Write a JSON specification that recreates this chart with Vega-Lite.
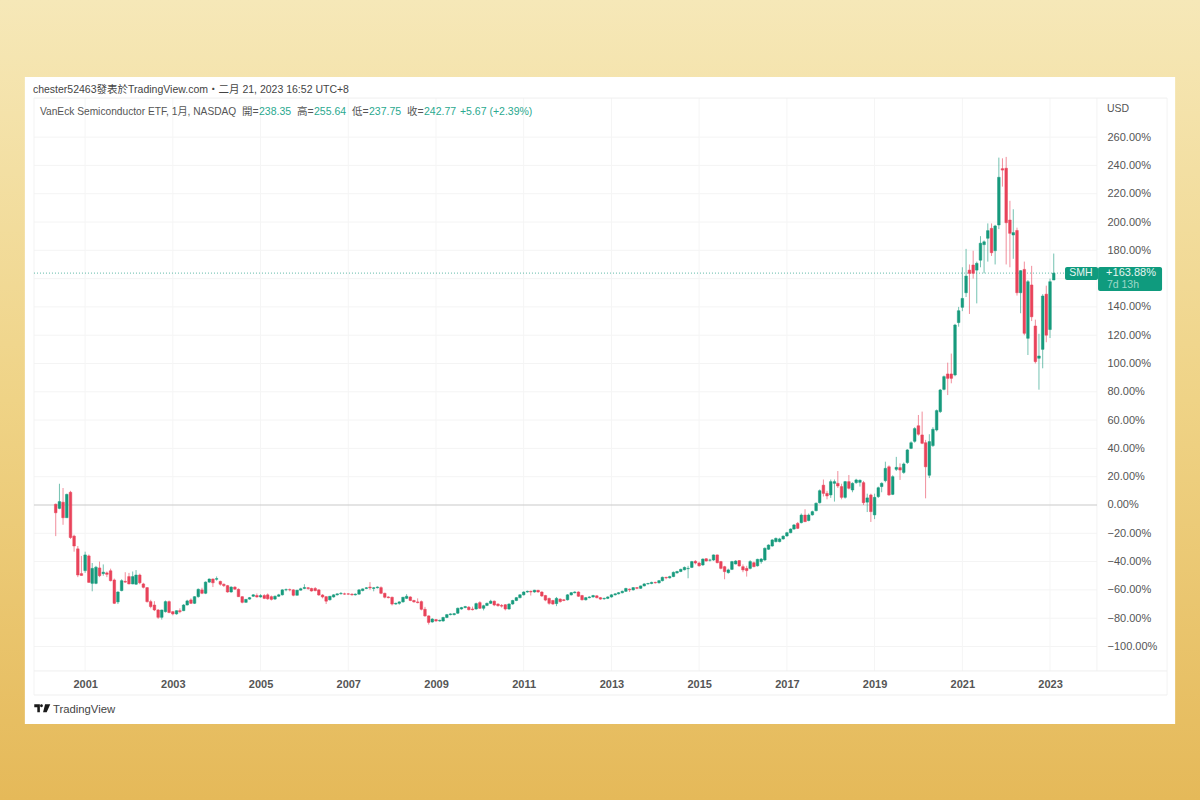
{"$schema":"https://vega.github.io/schema/vega-lite/v6.json","width":1200,"height":800,"padding":0,"autosize":{"type":"fit","contains":"padding"},"background":"#eccb7d","view":{"stroke":null},"config":{"text":{"font":"Liberation Sans, Noto Sans CJK TC"}},
"layer":[
{"data":{"values":[{"start":"1999-01-23","end":"2026-06-03","top":356.9,"bottom":-208.5}]},"mark":{"type":"rect","fill":{"gradient":"linear","x1":0,"y1":0,"x2":0,"y2":1,"stops":[{"offset":0,"color":"#f6e8b8"},{"offset":0.5,"color":"#efd386"},{"offset":1,"color":"#e5b959"}]}},"encoding":{"x":{"field":"start","type":"temporal","axis":{"title":null,"values":["2001-01-01","2003-01-01","2005-01-01","2007-01-01","2009-01-01","2011-01-01","2013-01-01","2015-01-01","2017-01-01","2019-01-01","2021-01-01","2023-01-01"],"format":"%Y","orient":"bottom","offset":-122,"domain":false,"ticks":false,"grid":false,"labelPadding":0,"labelFontSize":11,"labelFontWeight":"bold","labelColor":"#555555","labelFont":"Liberation Sans","zindex":1},"scale":{"type":"utc","domain":["1999-01-23","2026-06-03"],"padding":0}},"x2":{"field":"end"},"y":{"field":"top","type":"quantitative","axis":{"title":null,"orient":"right","offset":-93,"values":[-100,-80,-60,-40,-20,0,20,40,60,80,100,120,140,180,200,220,240,260],"labelExpr":"replace(format(datum.value,'.2f'),'-','−')+'%'","domain":false,"ticks":false,"grid":false,"labelPadding":0,"labelAlign":"left","labelFontSize":11,"labelColor":"#555555","labelFont":"Liberation Sans","zindex":1},"scale":{"type":"linear","domain":[-208.5,356.9],"nice":false,"zero":false}},"y2":{"field":"bottom"}}},
{"data":{"values":[{"start":"1999-08-18","end":"2025-11-08","top":302.5,"bottom":-154.8}]},"mark":{"type":"rect","fill":"#ffffff"},"encoding":{"x":{"field":"start","type":"temporal"},"x2":{"field":"end"},"y":{"field":"top","type":"quantitative"},"y2":{"field":"bottom"}}},
{"data":{"values":[{"from":"1999-11-02","to":"2024-01-27","level":260},{"from":"1999-11-02","to":"2024-01-27","level":240},{"from":"1999-11-02","to":"2024-01-27","level":220},{"from":"1999-11-02","to":"2024-01-27","level":200},{"from":"1999-11-02","to":"2024-01-27","level":180},{"from":"1999-11-02","to":"2024-01-27","level":160},{"from":"1999-11-02","to":"2024-01-27","level":140},{"from":"1999-11-02","to":"2024-01-27","level":120},{"from":"1999-11-02","to":"2024-01-27","level":100},{"from":"1999-11-02","to":"2024-01-27","level":80},{"from":"1999-11-02","to":"2024-01-27","level":60},{"from":"1999-11-02","to":"2024-01-27","level":40},{"from":"1999-11-02","to":"2024-01-27","level":20},{"from":"1999-11-02","to":"2024-01-27","level":-20},{"from":"1999-11-02","to":"2024-01-27","level":-40},{"from":"1999-11-02","to":"2024-01-27","level":-60},{"from":"1999-11-02","to":"2024-01-27","level":-80},{"from":"1999-11-02","to":"2024-01-27","level":-100}]},"mark":{"type":"rule","stroke":"#f4f4f4","strokeWidth":1},"encoding":{"y":{"field":"level","type":"quantitative"},"x":{"field":"from","type":"temporal"},"x2":{"field":"to"}}},
{"data":{"values":[{"date":"2001-01-01","a":287.6,"b":-117.3},{"date":"2003-01-01","a":287.6,"b":-117.3},{"date":"2005-01-01","a":287.6,"b":-117.3},{"date":"2007-01-01","a":287.6,"b":-117.3},{"date":"2009-01-01","a":287.6,"b":-117.3},{"date":"2011-01-01","a":287.6,"b":-117.3},{"date":"2013-01-01","a":287.6,"b":-117.3},{"date":"2015-01-01","a":287.6,"b":-117.3},{"date":"2017-01-01","a":287.6,"b":-117.3},{"date":"2019-01-01","a":287.6,"b":-117.3},{"date":"2021-01-01","a":287.6,"b":-117.3},{"date":"2023-01-01","a":287.6,"b":-117.3}]},"mark":{"type":"rule","stroke":"#f5f5f5","strokeWidth":1},"encoding":{"x":{"field":"date","type":"temporal"},"y":{"field":"a","type":"quantitative"},"y2":{"field":"b"}}},
{"data":{"values":[{"date":"1999-11-02","a":287.6,"b":-134.3},{"date":"2025-09-02","a":287.6,"b":-134.3},{"date":"2024-01-27","a":287.6,"b":-117.3}]},"mark":{"type":"rule","stroke":"#f3f3f3","strokeWidth":1},"encoding":{"x":{"field":"date","type":"temporal"},"y":{"field":"a","type":"quantitative"},"y2":{"field":"b"}}},
{"data":{"values":[{"from":"1999-11-02","to":"2025-09-02","level":287.6},{"from":"1999-11-02","to":"2025-09-02","level":-117.3},{"from":"1999-11-02","to":"2025-09-02","level":-134.3}]},"mark":{"type":"rule","stroke":"#efefef","strokeWidth":1},"encoding":{"y":{"field":"level","type":"quantitative"},"x":{"field":"from","type":"temporal"},"x2":{"field":"to"}}},
{"data":{"values":[{"from":"1999-11-02","to":"2024-01-27","level":0}]},"mark":{"type":"rule","stroke":"#c9c9c9","strokeWidth":1.2},"encoding":{"y":{"field":"level","type":"quantitative"},"x":{"field":"from","type":"temporal"},"x2":{"field":"to"}}},
{"data":{"values":[{"from":"1999-11-02","to":"2024-01-27","level":163.88}]},"mark":{"type":"rule","stroke":"#1a9a80","strokeWidth":1,"strokeDash":[1,2],"opacity":0.7},"encoding":{"y":{"field":"level","type":"quantitative"},"x":{"field":"from","type":"temporal"},"x2":{"field":"to"}}},
{"data":{"values":[
{"date":"2000-05-01","open":0.5,"close":-5.5,"high":1,"low":-22},
{"date":"2000-06-01","open":-2.4,"close":2.4,"high":15,"low":-3},
{"date":"2000-07-01","open":2,"close":-9,"high":12,"low":-14},
{"date":"2000-08-01","open":-9,"close":7.5,"high":8,"low":-9},
{"date":"2000-09-01","open":9,"close":-23,"high":10,"low":-24},
{"date":"2000-10-01","open":-22,"close":-29,"high":-21,"low":-33},
{"date":"2000-11-01","open":-31,"close":-49.5,"high":-29,"low":-51},
{"date":"2000-12-01","open":-48.5,"close":-49.8,"high":-36,"low":-50},
{"date":"2001-01-01","open":-46.4,"close":-35.3,"high":-33,"low":-48},
{"date":"2001-02-01","open":-36,"close":-54.7,"high":-35,"low":-55},
{"date":"2001-03-01","open":-55.4,"close":-44.8,"high":-41,"low":-61},
{"date":"2001-04-01","open":-55.4,"close":-44,"high":-43,"low":-56},
{"date":"2001-05-01","open":-44.5,"close":-50,"high":-40,"low":-51},
{"date":"2001-06-01","open":-48.5,"close":-47.5,"high":-42,"low":-50},
{"date":"2001-07-01","open":-48,"close":-49,"high":-47,"low":-51},
{"date":"2001-08-01","open":-46.5,"close":-53.5,"high":-45,"low":-54},
{"date":"2001-09-01","open":-53,"close":-69.5,"high":-52,"low":-70},
{"date":"2001-10-01","open":-68.5,"close":-61.5,"high":-61,"low":-70},
{"date":"2001-11-01","open":-60.5,"close":-53.5,"high":-52.5,"low":-61},
{"date":"2001-12-01","open":-54,"close":-54.5,"high":-47.5,"low":-55},
{"date":"2002-01-01","open":-50.6,"close":-55.8,"high":-48,"low":-56},
{"date":"2002-02-01","open":-55.8,"close":-50.6,"high":-47,"low":-56},
{"date":"2002-03-01","open":-56,"close":-49.5,"high":-46,"low":-56.5},
{"date":"2002-04-01","open":-49.5,"close":-55,"high":-48.5,"low":-56},
{"date":"2002-05-01","open":-55.8,"close":-58.2,"high":-55,"low":-59},
{"date":"2002-06-01","open":-58.4,"close":-68.3,"high":-58,"low":-69},
{"date":"2002-07-01","open":-68.3,"close":-71.8,"high":-67,"low":-73},
{"date":"2002-08-01","open":-70.7,"close":-74.2,"high":-68,"low":-75},
{"date":"2002-09-01","open":-74.2,"close":-79.4,"high":-73.5,"low":-80.5},
{"date":"2002-10-01","open":-79.4,"close":-74.2,"high":-74,"low":-81},
{"date":"2002-11-01","open":-75.4,"close":-68.3,"high":-67.5,"low":-76},
{"date":"2002-12-01","open":-68.3,"close":-76,"high":-67.5,"low":-76.5},
{"date":"2003-01-01","open":-75.4,"close":-77,"high":-75,"low":-78},
{"date":"2003-02-01","open":-77,"close":-74.7,"high":-74.5,"low":-77.5},
{"date":"2003-03-01","open":-74.7,"close":-75.4,"high":-73,"low":-76.5},
{"date":"2003-04-01","open":-74.7,"close":-70.7,"high":-70,"low":-75},
{"date":"2003-05-01","open":-70.7,"close":-67.8,"high":-67,"low":-71},
{"date":"2003-06-01","open":-67.1,"close":-69.5,"high":-66,"low":-70},
{"date":"2003-07-01","open":-69.5,"close":-64.8,"high":-64.5,"low":-70},
{"date":"2003-08-01","open":-64.8,"close":-59.6,"high":-59,"low":-65.5},
{"date":"2003-09-01","open":-60,"close":-62.4,"high":-58.5,"low":-63},
{"date":"2003-10-01","open":-62.4,"close":-54.5,"high":-54,"low":-63},
{"date":"2003-11-01","open":-54.5,"close":-52.3,"high":-52,"low":-55},
{"date":"2003-12-01","open":-52.3,"close":-55,"high":-52,"low":-58},
{"date":"2004-01-01","open":-52.5,"close":-52,"high":-50.5,"low":-53.5},
{"date":"2004-02-01","open":-54,"close":-56,"high":-53.5,"low":-57},
{"date":"2004-03-01","open":-56,"close":-57,"high":-55.5,"low":-58},
{"date":"2004-04-01","open":-57,"close":-61.5,"high":-56.5,"low":-62},
{"date":"2004-05-01","open":-61.5,"close":-58,"high":-57.5,"low":-62},
{"date":"2004-06-01","open":-58,"close":-59.5,"high":-57.5,"low":-60},
{"date":"2004-07-01","open":-59.6,"close":-64.8,"high":-59,"low":-65},
{"date":"2004-08-01","open":-64.8,"close":-68.8,"high":-64.5,"low":-69.5},
{"date":"2004-09-01","open":-68.8,"close":-66.7,"high":-66.5,"low":-69},
{"date":"2004-10-01","open":-66.5,"close":-65.5,"high":-65,"low":-67},
{"date":"2004-11-01","open":-64.5,"close":-63.5,"high":-63,"low":-65},
{"date":"2004-12-01","open":-64,"close":-65,"high":-62.5,"low":-65.5},
{"date":"2005-01-01","open":-65,"close":-64,"high":-63,"low":-65.5},
{"date":"2005-02-01","open":-64,"close":-66,"high":-63,"low":-66.5},
{"date":"2005-03-01","open":-63.5,"close":-66.3,"high":-62.5,"low":-67},
{"date":"2005-04-01","open":-64.8,"close":-66.7,"high":-64,"low":-67.5},
{"date":"2005-05-01","open":-66.5,"close":-64.5,"high":-64,"low":-67},
{"date":"2005-06-01","open":-64.5,"close":-63.5,"high":-62.8,"low":-65},
{"date":"2005-07-01","open":-63.5,"close":-60,"high":-59.5,"low":-64},
{"date":"2005-08-01","open":-60,"close":-59.8,"high":-59,"low":-61},
{"date":"2005-09-01","open":-59.8,"close":-60,"high":-59,"low":-61},
{"date":"2005-10-01","open":-60,"close":-63.8,"high":-59.5,"low":-64.5},
{"date":"2005-11-01","open":-63.8,"close":-60.2,"high":-60,"low":-64},
{"date":"2005-12-01","open":-60.2,"close":-59.2,"high":-58.5,"low":-60.5},
{"date":"2006-01-01","open":-59,"close":-58.3,"high":-56,"low":-59.5},
{"date":"2006-02-01","open":-58.5,"close":-59,"high":-58,"low":-60},
{"date":"2006-03-01","open":-59,"close":-60.8,"high":-58.5,"low":-61.2},
{"date":"2006-04-01","open":-59,"close":-60.5,"high":-58,"low":-61},
{"date":"2006-05-01","open":-60,"close":-63.6,"high":-59.5,"low":-64.2},
{"date":"2006-06-01","open":-63.6,"close":-65,"high":-63,"low":-66},
{"date":"2006-07-01","open":-64.8,"close":-68,"high":-64.5,"low":-70},
{"date":"2006-08-01","open":-67,"close":-64.5,"high":-64.3,"low":-67.5},
{"date":"2006-09-01","open":-65,"close":-63.5,"high":-63,"low":-65.5},
{"date":"2006-10-01","open":-63.5,"close":-62.8,"high":-62.5,"low":-64},
{"date":"2006-11-01","open":-62.8,"close":-62.5,"high":-61.5,"low":-63.2},
{"date":"2006-12-01","open":-62.8,"close":-63,"high":-62,"low":-63.5},
{"date":"2007-01-01","open":-62.8,"close":-63,"high":-62.3,"low":-63.5},
{"date":"2007-02-01","open":-63,"close":-63.5,"high":-62.5,"low":-64},
{"date":"2007-03-01","open":-63.5,"close":-63,"high":-62.5,"low":-64},
{"date":"2007-04-01","open":-63,"close":-60,"high":-59.5,"low":-63.5},
{"date":"2007-05-01","open":-60.5,"close":-59.3,"high":-59,"low":-61},
{"date":"2007-06-01","open":-59,"close":-58.5,"high":-58,"low":-59.5},
{"date":"2007-07-01","open":-58,"close":-58.6,"high":-54.5,"low":-60},
{"date":"2007-08-01","open":-59,"close":-58.5,"high":-58,"low":-61},
{"date":"2007-09-01","open":-58.5,"close":-58,"high":-57.5,"low":-59},
{"date":"2007-10-01","open":-58.4,"close":-62.4,"high":-57.5,"low":-63},
{"date":"2007-11-01","open":-62.4,"close":-65.2,"high":-62,"low":-66},
{"date":"2007-12-01","open":-65,"close":-65.5,"high":-64.5,"low":-66},
{"date":"2008-01-01","open":-65.2,"close":-70,"high":-64.8,"low":-71},
{"date":"2008-02-01","open":-70,"close":-69.5,"high":-69,"low":-70.5},
{"date":"2008-03-01","open":-69.5,"close":-68.5,"high":-68,"low":-70.5},
{"date":"2008-04-01","open":-68.5,"close":-65.2,"high":-65,"low":-69},
{"date":"2008-05-01","open":-66,"close":-64.5,"high":-63,"low":-66.5},
{"date":"2008-06-01","open":-65,"close":-67.5,"high":-64.5,"low":-68},
{"date":"2008-07-01","open":-67.5,"close":-68.5,"high":-67,"low":-69},
{"date":"2008-08-01","open":-68.5,"close":-69,"high":-66,"low":-69.5},
{"date":"2008-09-01","open":-68.3,"close":-73.7,"high":-67.5,"low":-74.5},
{"date":"2008-10-01","open":-73.7,"close":-78.4,"high":-72,"low":-79},
{"date":"2008-11-01","open":-78.4,"close":-83,"high":-78,"low":-84.5},
{"date":"2008-12-01","open":-82.7,"close":-80.6,"high":-80,"low":-83.2},
{"date":"2009-01-01","open":-81,"close":-82,"high":-80.5,"low":-82.5},
{"date":"2009-02-01","open":-82,"close":-81.5,"high":-81,"low":-82.5},
{"date":"2009-03-01","open":-82,"close":-79.5,"high":-79,"low":-82.5},
{"date":"2009-04-01","open":-79.5,"close":-77.5,"high":-77,"low":-80},
{"date":"2009-05-01","open":-77.5,"close":-77,"high":-76.5,"low":-78},
{"date":"2009-06-01","open":-77.5,"close":-76.8,"high":-76.3,"low":-78},
{"date":"2009-07-01","open":-76.5,"close":-73,"high":-72.5,"low":-77},
{"date":"2009-08-01","open":-73.5,"close":-72.5,"high":-72,"low":-74},
{"date":"2009-09-01","open":-72.5,"close":-71.8,"high":-71.3,"low":-73},
{"date":"2009-10-01","open":-72.2,"close":-74,"high":-71.5,"low":-74.5},
{"date":"2009-11-01","open":-73.5,"close":-74,"high":-71.8,"low":-74.5},
{"date":"2009-12-01","open":-73.5,"close":-69.7,"high":-69,"low":-74},
{"date":"2010-01-01","open":-69,"close":-73,"high":-68,"low":-73.5},
{"date":"2010-02-01","open":-73,"close":-71.2,"high":-70.5,"low":-74.5},
{"date":"2010-03-01","open":-71,"close":-69.5,"high":-69,"low":-71.5},
{"date":"2010-04-01","open":-69.5,"close":-68,"high":-67,"low":-70},
{"date":"2010-05-01","open":-68,"close":-70.7,"high":-67.5,"low":-71.5},
{"date":"2010-06-01","open":-70,"close":-71.2,"high":-69.5,"low":-71.8},
{"date":"2010-07-01","open":-71,"close":-71.5,"high":-70,"low":-72.5},
{"date":"2010-08-01","open":-70.5,"close":-73.5,"high":-70,"low":-74.5},
{"date":"2010-09-01","open":-73.5,"close":-70,"high":-69.5,"low":-74},
{"date":"2010-10-01","open":-70,"close":-67.5,"high":-67,"low":-70.5},
{"date":"2010-11-01","open":-67.5,"close":-65.5,"high":-65,"low":-68},
{"date":"2010-12-01","open":-65.5,"close":-63.5,"high":-63,"low":-66},
{"date":"2011-01-01","open":-63.5,"close":-61.5,"high":-61,"low":-64},
{"date":"2011-02-01","open":-61.5,"close":-61,"high":-60.5,"low":-62},
{"date":"2011-03-01","open":-61,"close":-61.5,"high":-60.5,"low":-64},
{"date":"2011-04-01","open":-61.5,"close":-60.2,"high":-60,"low":-62},
{"date":"2011-05-01","open":-60.3,"close":-61.5,"high":-60,"low":-62},
{"date":"2011-06-01","open":-61.5,"close":-64.3,"high":-61,"low":-65},
{"date":"2011-07-01","open":-64,"close":-67.2,"high":-63.5,"low":-68},
{"date":"2011-08-01","open":-66,"close":-69.5,"high":-65.5,"low":-70.5},
{"date":"2011-09-01","open":-67.5,"close":-70,"high":-67,"low":-70.5},
{"date":"2011-10-01","open":-69.7,"close":-66,"high":-65,"low":-71.5},
{"date":"2011-11-01","open":-66.5,"close":-68.3,"high":-66,"low":-69},
{"date":"2011-12-01","open":-67,"close":-67.5,"high":-66.5,"low":-68},
{"date":"2012-01-01","open":-67,"close":-63.5,"high":-63,"low":-67.5},
{"date":"2012-02-01","open":-63.5,"close":-62,"high":-61.5,"low":-64},
{"date":"2012-03-01","open":-62,"close":-61.5,"high":-61,"low":-62.5},
{"date":"2012-04-01","open":-61.5,"close":-64.5,"high":-61,"low":-65},
{"date":"2012-05-01","open":-64,"close":-67,"high":-63.5,"low":-67.5},
{"date":"2012-06-01","open":-67,"close":-65.5,"high":-65,"low":-67.5},
{"date":"2012-07-01","open":-65.5,"close":-65,"high":-64.5,"low":-66},
{"date":"2012-08-01","open":-65,"close":-64,"high":-63.5,"low":-65.5},
{"date":"2012-09-01","open":-64.2,"close":-65.5,"high":-63.8,"low":-66},
{"date":"2012-10-01","open":-65.5,"close":-66.5,"high":-65,"low":-67},
{"date":"2012-11-01","open":-66.3,"close":-66,"high":-65.5,"low":-67},
{"date":"2012-12-01","open":-66,"close":-65,"high":-64.5,"low":-66.5},
{"date":"2013-01-01","open":-65,"close":-63.5,"high":-63,"low":-65.5},
{"date":"2013-02-01","open":-63.5,"close":-62.8,"high":-62.3,"low":-64},
{"date":"2013-03-01","open":-62.8,"close":-62,"high":-61.5,"low":-63.2},
{"date":"2013-04-01","open":-62,"close":-61,"high":-60.5,"low":-62.5},
{"date":"2013-05-01","open":-61,"close":-59,"high":-58.5,"low":-61.5},
{"date":"2013-06-01","open":-59.5,"close":-60,"high":-59,"low":-61.5},
{"date":"2013-07-01","open":-60,"close":-58.4,"high":-58,"low":-60.5},
{"date":"2013-08-01","open":-58.4,"close":-58.9,"high":-58,"low":-59.5},
{"date":"2013-09-01","open":-58.9,"close":-57.2,"high":-57,"low":-59.3},
{"date":"2013-10-01","open":-57.2,"close":-55.8,"high":-55.3,"low":-57.5},
{"date":"2013-11-01","open":-55.8,"close":-55.5,"high":-55,"low":-56.2},
{"date":"2013-12-01","open":-55.5,"close":-54.7,"high":-54.2,"low":-56},
{"date":"2014-01-01","open":-54.7,"close":-55,"high":-54.2,"low":-55.5},
{"date":"2014-02-01","open":-55,"close":-53.5,"high":-53,"low":-55.5},
{"date":"2014-03-01","open":-53.5,"close":-51.1,"high":-50.6,"low":-54},
{"date":"2014-04-01","open":-51.1,"close":-51.5,"high":-50.8,"low":-52.5},
{"date":"2014-05-01","open":-51.5,"close":-50.6,"high":-50,"low":-52},
{"date":"2014-06-01","open":-50.6,"close":-47.6,"high":-47,"low":-51},
{"date":"2014-07-01","open":-48,"close":-47,"high":-46.5,"low":-48.5},
{"date":"2014-08-01","open":-47,"close":-45.5,"high":-45,"low":-47.5},
{"date":"2014-09-01","open":-45.8,"close":-44.1,"high":-43.5,"low":-46.2},
{"date":"2014-10-01","open":-45,"close":-44.8,"high":-43,"low":-51.8},
{"date":"2014-11-01","open":-44.1,"close":-40,"high":-39.5,"low":-44.6},
{"date":"2014-12-01","open":-39.8,"close":-41,"high":-39,"low":-42},
{"date":"2015-01-01","open":-41,"close":-43,"high":-40,"low":-43.5},
{"date":"2015-02-01","open":-42.4,"close":-38.2,"high":-37.8,"low":-43},
{"date":"2015-03-01","open":-38,"close":-39.6,"high":-37.5,"low":-40},
{"date":"2015-04-01","open":-39,"close":-38.9,"high":-38,"low":-40},
{"date":"2015-05-01","open":-38.9,"close":-35.3,"high":-35,"low":-39.5},
{"date":"2015-06-01","open":-35.3,"close":-40.8,"high":-35,"low":-41.2},
{"date":"2015-07-01","open":-40,"close":-44.8,"high":-39.5,"low":-45.5},
{"date":"2015-08-01","open":-43.6,"close":-47.1,"high":-43,"low":-52.5},
{"date":"2015-09-01","open":-47.8,"close":-45.9,"high":-45,"low":-48.5},
{"date":"2015-10-01","open":-45.5,"close":-40,"high":-39.5,"low":-46},
{"date":"2015-11-01","open":-41.7,"close":-39.6,"high":-39,"low":-42},
{"date":"2015-12-01","open":-39.3,"close":-43.1,"high":-39,"low":-43.5},
{"date":"2016-01-01","open":-43.6,"close":-45.9,"high":-42,"low":-47.5},
{"date":"2016-02-01","open":-44.8,"close":-46.4,"high":-43,"low":-50.6},
{"date":"2016-03-01","open":-44.8,"close":-40,"high":-39,"low":-45.5},
{"date":"2016-04-01","open":-40.8,"close":-43.6,"high":-40,"low":-44},
{"date":"2016-05-01","open":-43,"close":-38.4,"high":-38,"low":-43.5},
{"date":"2016-06-01","open":-40,"close":-38.2,"high":-37.5,"low":-41.5},
{"date":"2016-07-01","open":-38.9,"close":-30.6,"high":-30,"low":-39.5},
{"date":"2016-08-01","open":-31.3,"close":-28.3,"high":-27.8,"low":-31.8},
{"date":"2016-09-01","open":-29,"close":-24.7,"high":-24.2,"low":-29.5},
{"date":"2016-10-01","open":-25.9,"close":-23.6,"high":-23,"low":-26.4},
{"date":"2016-11-01","open":-25.9,"close":-24,"high":-23.2,"low":-26.4},
{"date":"2016-12-01","open":-24,"close":-22,"high":-21.5,"low":-24.5},
{"date":"2017-01-01","open":-21.9,"close":-19.6,"high":-19,"low":-22.4},
{"date":"2017-02-01","open":-19.6,"close":-17,"high":-16.5,"low":-20},
{"date":"2017-03-01","open":-17,"close":-14.1,"high":-13.5,"low":-17.5},
{"date":"2017-04-01","open":-13,"close":-16.5,"high":-12,"low":-17},
{"date":"2017-05-01","open":-12.5,"close":-7.1,"high":-6,"low":-13},
{"date":"2017-06-01","open":-7.1,"close":-11.8,"high":-3,"low":-12},
{"date":"2017-07-01","open":-11,"close":-7.1,"high":-6,"low":-11.5},
{"date":"2017-08-01","open":-7,"close":-4.7,"high":-4,"low":-7.5},
{"date":"2017-09-01","open":-4,"close":1.2,"high":1.8,"low":-4.5},
{"date":"2017-10-01","open":1.6,"close":10.1,"high":11,"low":1},
{"date":"2017-11-01","open":14,"close":8.2,"high":18,"low":6},
{"date":"2017-12-01","open":8.2,"close":6.4,"high":10,"low":4},
{"date":"2018-01-01","open":7.1,"close":16.5,"high":18,"low":5},
{"date":"2018-02-01","open":15.3,"close":16.5,"high":18,"low":2.4},
{"date":"2018-03-01","open":15.3,"close":13.4,"high":24,"low":12},
{"date":"2018-04-01","open":13,"close":5.4,"high":15,"low":4},
{"date":"2018-05-01","open":5.4,"close":16.5,"high":17,"low":4.5},
{"date":"2018-06-01","open":16.5,"close":11.8,"high":21.2,"low":11},
{"date":"2018-07-01","open":10.6,"close":15.3,"high":16,"low":9},
{"date":"2018-08-01","open":15.8,"close":17.7,"high":18.5,"low":15},
{"date":"2018-09-01","open":16,"close":17.5,"high":18,"low":13},
{"date":"2018-10-01","open":15.8,"close":1.6,"high":17,"low":0},
{"date":"2018-11-01","open":2,"close":5,"high":8,"low":-5},
{"date":"2018-12-01","open":7.1,"close":-4.7,"high":8,"low":-12},
{"date":"2019-01-01","open":-7,"close":5.4,"high":8,"low":-10},
{"date":"2019-02-01","open":5.9,"close":12.2,"high":13,"low":5},
{"date":"2019-03-01","open":13,"close":15.3,"high":16,"low":9},
{"date":"2019-04-01","open":17.2,"close":25.9,"high":30.6,"low":16},
{"date":"2019-05-01","open":27,"close":7.1,"high":28,"low":6.5},
{"date":"2019-06-01","open":7.5,"close":20,"high":21,"low":7},
{"date":"2019-07-01","open":25.2,"close":26.6,"high":34,"low":24},
{"date":"2019-08-01","open":26.4,"close":24.7,"high":29.4,"low":17.7},
{"date":"2019-09-01","open":23,"close":29,"high":30,"low":22},
{"date":"2019-10-01","open":30,"close":38.9,"high":39.5,"low":29},
{"date":"2019-11-01","open":40,"close":44,"high":45,"low":39.5},
{"date":"2019-12-01","open":45,"close":54,"high":55,"low":44},
{"date":"2020-01-01","open":56,"close":50,"high":63.6,"low":49},
{"date":"2020-02-01","open":49.5,"close":43.6,"high":66,"low":43},
{"date":"2020-03-01","open":44,"close":27,"high":46,"low":4.7},
{"date":"2020-04-01","open":21,"close":44.8,"high":50,"low":19},
{"date":"2020-05-01","open":42,"close":53.5,"high":55,"low":41},
{"date":"2020-06-01","open":53,"close":66.7,"high":67.5,"low":52},
{"date":"2020-07-01","open":66,"close":81.3,"high":82,"low":65},
{"date":"2020-08-01","open":81.7,"close":90.7,"high":91.5,"low":81},
{"date":"2020-09-01","open":92.6,"close":89.5,"high":100.6,"low":77.7},
{"date":"2020-10-01","open":92.6,"close":89.5,"high":107,"low":86},
{"date":"2020-11-01","open":91.9,"close":127.2,"high":128,"low":91},
{"date":"2020-12-01","open":128.9,"close":137.3,"high":140,"low":126},
{"date":"2021-01-01","open":139.7,"close":146,"high":168,"low":137},
{"date":"2021-02-01","open":150,"close":161.8,"high":181,"low":147},
{"date":"2021-03-01","open":166,"close":163.7,"high":170,"low":135},
{"date":"2021-04-01","open":169.6,"close":163.7,"high":179.7,"low":160},
{"date":"2021-05-01","open":166,"close":170.8,"high":172,"low":142.5},
{"date":"2021-06-01","open":173,"close":185,"high":190,"low":168},
{"date":"2021-07-01","open":184,"close":186,"high":187,"low":163.7},
{"date":"2021-08-01","open":188.5,"close":193.9,"high":199,"low":172},
{"date":"2021-09-01","open":195.5,"close":178.3,"high":199,"low":176},
{"date":"2021-10-01","open":179.7,"close":197.2,"high":198,"low":170},
{"date":"2021-11-01","open":197.9,"close":231.6,"high":245.5,"low":195},
{"date":"2021-12-01","open":237.7,"close":236.7,"high":245,"low":225},
{"date":"2022-01-01","open":238,"close":199.5,"high":246,"low":170},
{"date":"2022-02-01","open":201.4,"close":192,"high":215,"low":168},
{"date":"2022-03-01","open":190.8,"close":192.5,"high":209,"low":174},
{"date":"2022-04-01","open":194,"close":150,"high":196,"low":148},
{"date":"2022-05-01","open":150,"close":165.6,"high":166,"low":135.5},
{"date":"2022-06-01","open":166.5,"close":121.3,"high":172,"low":120},
{"date":"2022-07-01","open":117.8,"close":157.8,"high":159,"low":106},
{"date":"2022-08-01","open":155.5,"close":133,"high":169,"low":130},
{"date":"2022-09-01","open":126.5,"close":101.3,"high":131,"low":100},
{"date":"2022-10-01","open":103.7,"close":105.3,"high":121,"low":81.5},
{"date":"2022-11-01","open":110,"close":147.7,"high":149,"low":96.6},
{"date":"2022-12-01","open":149,"close":120,"high":155,"low":115},
{"date":"2023-01-01","open":124,"close":157.8,"high":160,"low":118},
{"date":"2023-02-01","open":159,"close":163.88,"high":177.7,"low":159}
]},"encoding":{"x":{"field":"date","type":"temporal"},"color":{"condition":{"test":"datum.close>=datum.open","value":"#179a7d"},"value":"#e8435a"}},"layer":[{"mark":{"type":"rule","strokeWidth":1,"opacity":0.6},"encoding":{"y":{"field":"low","type":"quantitative"},"y2":{"field":"high"}}},{"mark":{"type":"bar","size":2.6,"strokeWidth":0.5},"encoding":{"y":{"field":"open","type":"quantitative"},"y2":{"field":"close"},"stroke":{"condition":{"test":"datum.close>=datum.open","value":"#179a7d"},"value":"#e8435a"}}}]},
{"data":{"values":[{"start":"2023-05-06","end":"2024-02-05","top":168.2,"bottom":159},{"start":"2024-02-05","end":"2025-07-22","top":168.2,"bottom":151.2}]},"mark":{"type":"rect","fill":"#0f9b7e","cornerRadius":2},"encoding":{"x":{"field":"start","type":"temporal"},"x2":{"field":"end"},"y":{"field":"top","type":"quantitative"},"y2":{"field":"bottom"}}},
{"data":{"values":[{"date":"2023-09-16","level":163.9,"label":"SMH"}]},"mark":{"type":"text","align":"center","baseline":"middle","fontSize":10.5,"fill":"#e6f5f0"},"encoding":{"x":{"field":"date","type":"temporal"},"y":{"field":"level","type":"quantitative"},"text":{"field":"label"}}},
{"data":{"values":[{"date":"2024-04-12","level":163.9,"label":"+163.88%"}]},"mark":{"type":"text","align":"left","baseline":"middle","fontSize":11,"fill":"#e6f5f0"},"encoding":{"x":{"field":"date","type":"temporal"},"y":{"field":"level","type":"quantitative"},"text":{"field":"label"}}},
{"data":{"values":[{"date":"2024-04-19","level":155.5,"label":"7d 13h"}]},"mark":{"type":"text","align":"left","baseline":"middle","fontSize":10.5,"fill":"#9ed8c8"},"encoding":{"x":{"field":"date","type":"temporal"},"y":{"field":"level","type":"quantitative"},"text":{"field":"label"}}},
{"data":{"values":[{"date":"1999-10-24","level":293.4,"label":"chester52463發表於TradingView.com・二月 21, 2023 16:52 UTC+8"}]},"mark":{"type":"text","align":"left","baseline":"middle","fontSize":10.5,"fill":"#444444"},"encoding":{"x":{"field":"date","type":"temporal"},"y":{"field":"level","type":"quantitative"},"text":{"field":"label"}}},
{"data":{"values":[{"date":"1999-12-22","level":278,"label":"VanEck Semiconductor ETF, 1月, NASDAQ"}]},"mark":{"type":"text","align":"left","baseline":"middle","fontSize":10.2,"fill":"#555555"},"encoding":{"x":{"field":"date","type":"temporal"},"y":{"field":"level","type":"quantitative"},"text":{"field":"label"}}},
{"data":{"values":[{"date":"2004-07-31","level":278,"label":"開="},{"date":"2005-11-01","level":278,"label":"高="},{"date":"2007-02-02","level":278,"label":"低="},{"date":"2008-05-05","level":278,"label":"收="},{"date":"2024-04-19","level":279.6,"label":"USD"}]},"mark":{"type":"text","align":"left","baseline":"middle","fontSize":10.5,"fill":"#555555"},"encoding":{"x":{"field":"date","type":"temporal"},"y":{"field":"level","type":"quantitative"},"text":{"field":"label"}}},
{"data":{"values":[{"date":"2004-12-19","level":278,"label":"238.35"},{"date":"2006-03-22","level":278,"label":"255.64"},{"date":"2007-06-23","level":278,"label":"237.75"},{"date":"2008-09-23","level":278,"label":"242.77"},{"date":"2009-07-19","level":278,"label":"+5.67 (+2.39%)"}]},"mark":{"type":"text","align":"left","baseline":"middle","fontSize":10.5,"fill":"#2aa98f"},"encoding":{"x":{"field":"date","type":"temporal"},"y":{"field":"level","type":"quantitative"},"text":{"field":"label"}}},
{"data":{"values":[{"date":"2000-04-08","level":-144.6,"label":"TradingView"}]},"mark":{"type":"text","align":"left","baseline":"middle","fontSize":11.3,"fill":"#444444"},"encoding":{"x":{"field":"date","type":"temporal"},"y":{"field":"level","type":"quantitative"},"text":{"field":"label"}}},
{"data":{"values":[{"date":"2000-01-10","level":-143.6}]},"mark":{"type":"point","filled":true,"fill":"#1a1a1a","opacity":1,"size":256,"shape":"M-1 -.5 L-.3 -.5 L-.3 .5 L-.62 .5 L-.62 -.1 L-1 -.1 Z M-.28 -.3 A.18 .18 0 1 1 .08 -.3 A.18 .18 0 1 1 -.28 -.3 Z M.35 -.5 L1 -.5 L.55 .5 L.1 .5 Z"},"encoding":{"x":{"field":"date","type":"temporal"},"y":{"field":"level","type":"quantitative"}}}
]}
